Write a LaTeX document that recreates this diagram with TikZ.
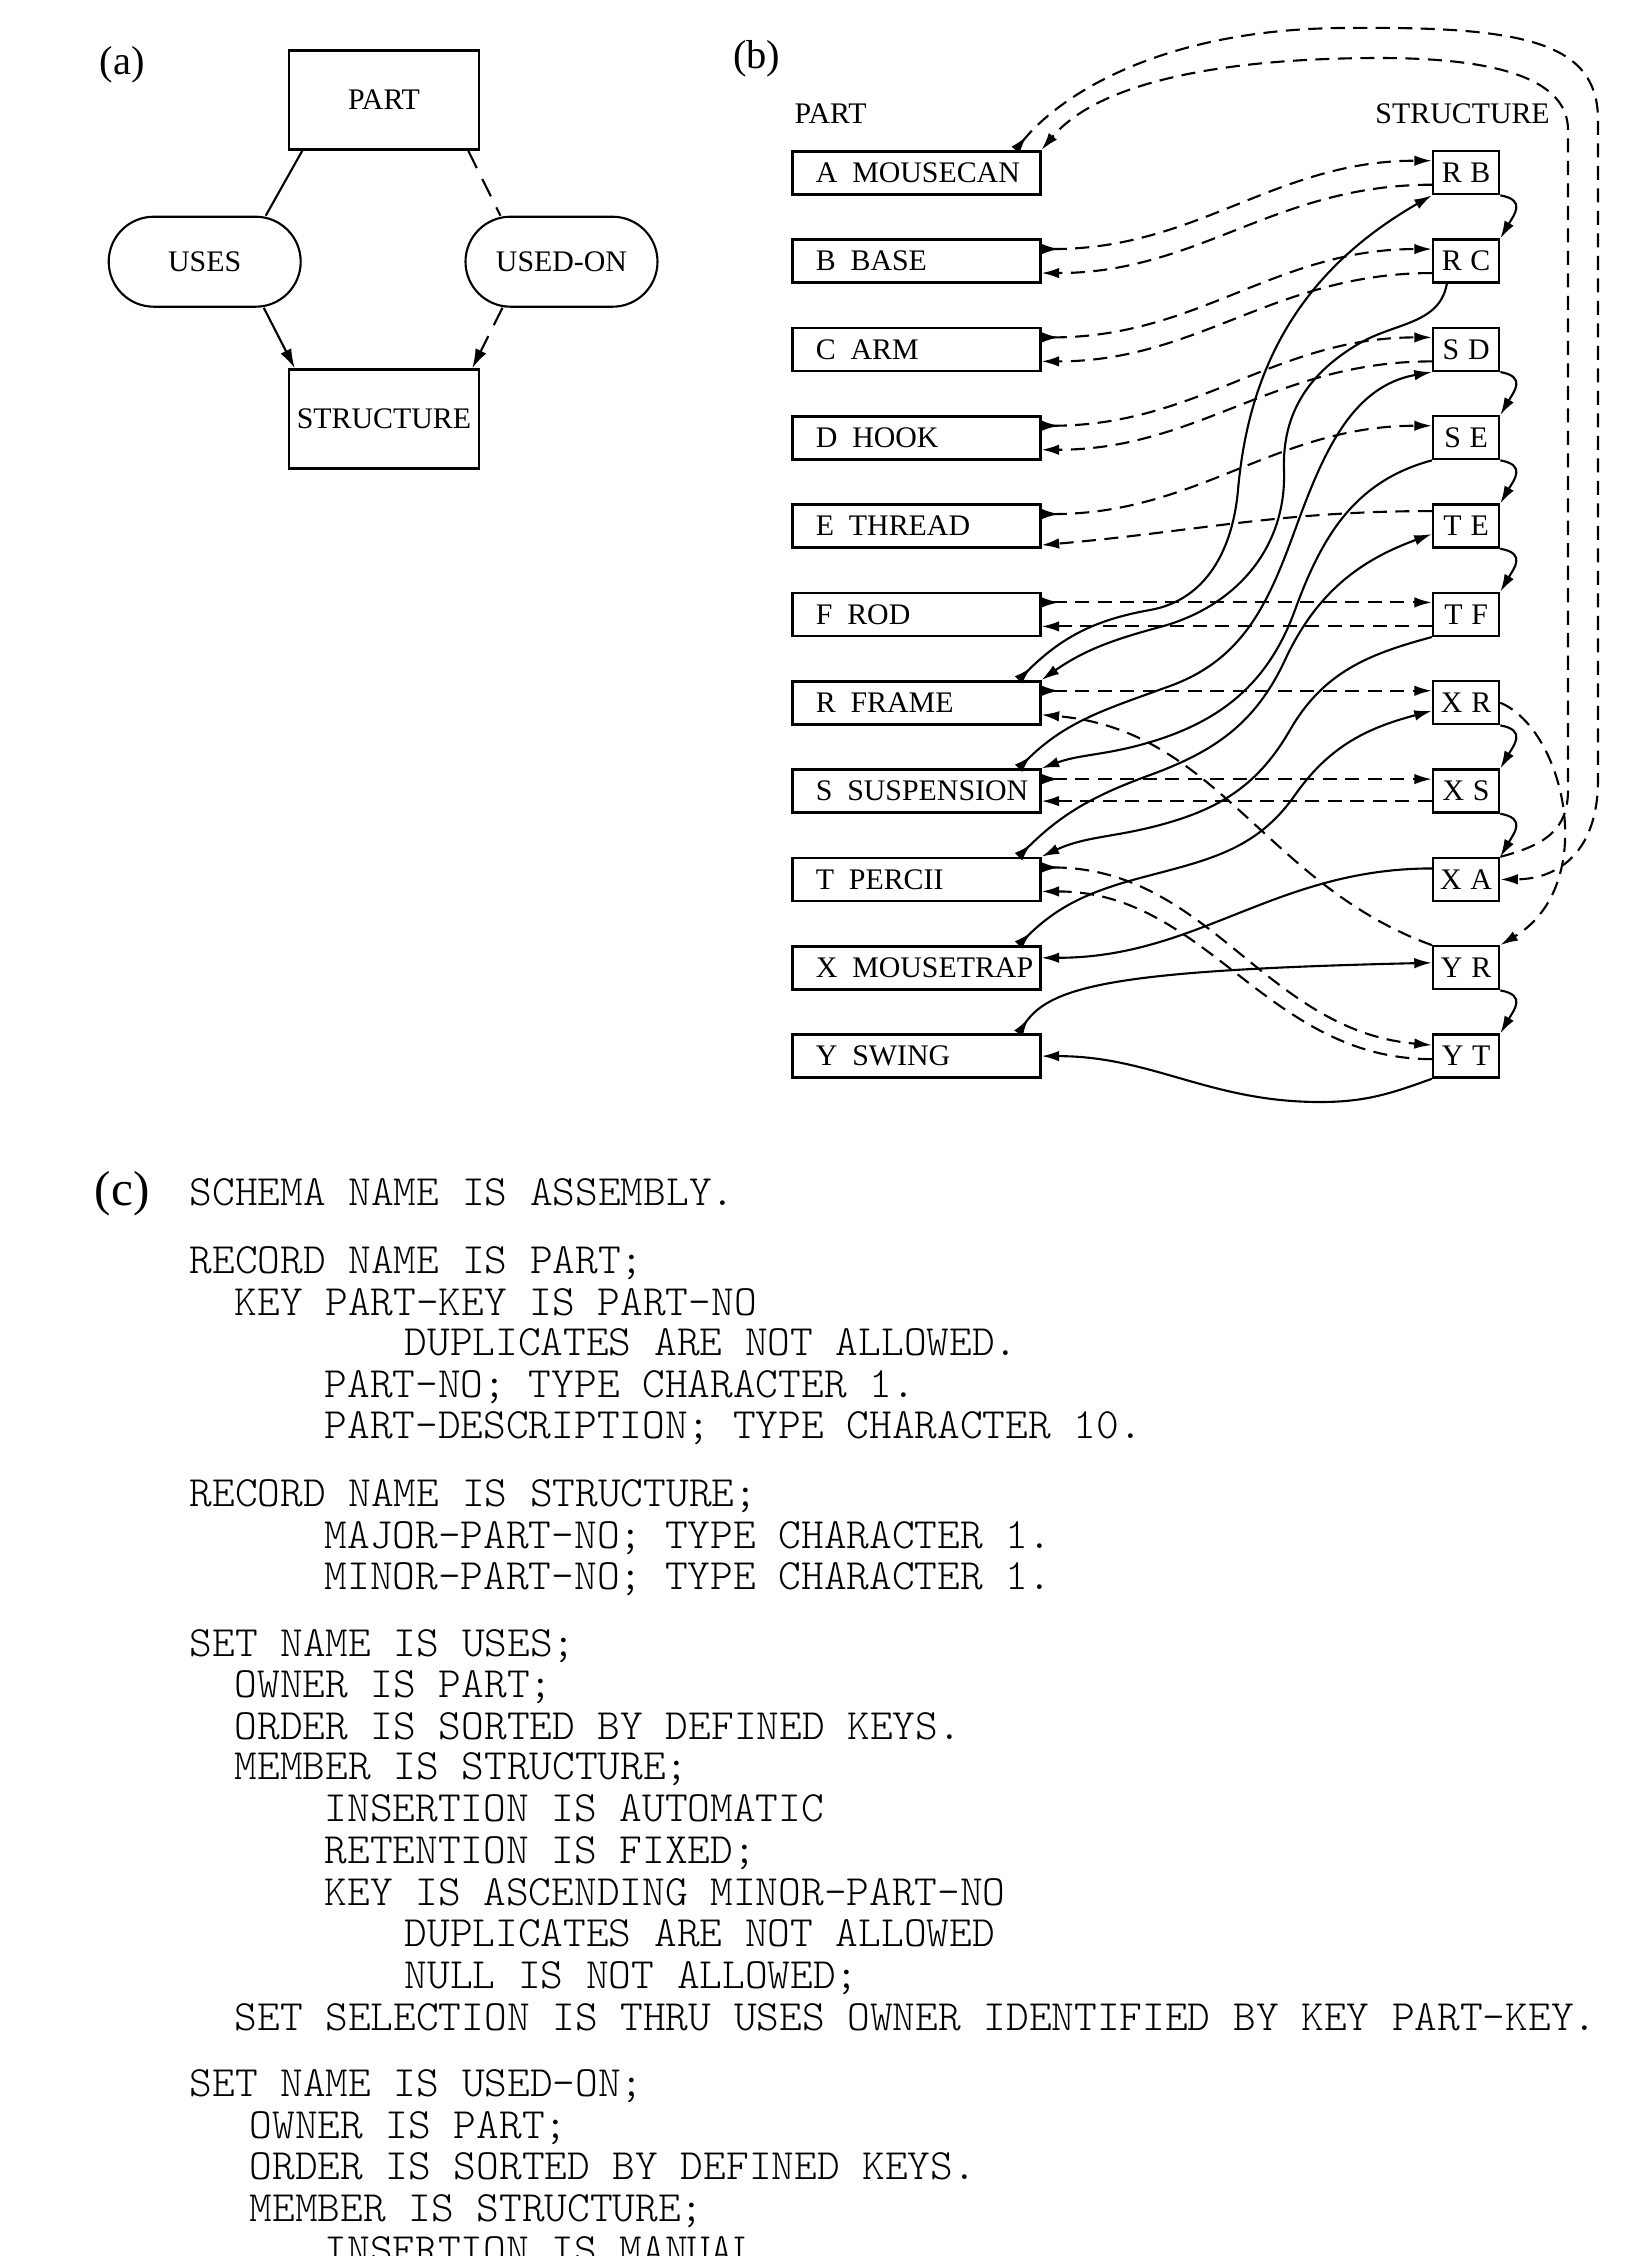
\documentclass[tikz,border=0pt]{standalone}
\usepackage{fontspec}
\setmainfont{Liberation Serif}
\newfontfamily\codefont{Latin Modern Mono Light}
\usetikzlibrary{arrows.meta}

\begin{document}
\begin{tikzpicture}[font=\fontsize{8.5pt}{10pt}\selectfont,
  rec/.style={draw,line width=0.7pt,minimum width=1.9cm,minimum height=0.99cm,inner xsep=1pt},
  setoval/.style={draw,line width=0.6pt,rounded corners=0.45cm,minimum width=1.92cm,minimum height=0.9cm},
  partbox/.style={draw,line width=0.75pt,text width=2.015cm,inner xsep=0.23cm,inner ysep=0pt,minimum height=0.43cm,align=left},
  strbox/.style={draw,line width=0.65pt,minimum width=0.662cm,minimum height=0.43cm,inner sep=0pt},
  link/.style={line width=0.6pt},
  dlink/.style={line width=0.6pt,dash pattern=on 4pt off 2.4pt},
  endtip/.style={-{Latex[length=5pt,width=3pt]}},
  owntip/.style={{Latex[length=5pt,width=3pt,reversed]}-{Latex[length=5pt,width=3pt]}},
  bigtip/.style={-{Latex[length=5.5pt,width=3.4pt]}},
  code/.style={font=\fontsize{12.3pt}{14pt}\selectfont\codefont,anchor=base west,inner sep=0pt},
  panel/.style={font=\fontsize{11.5pt}{13pt}\selectfont}]
\useasboundingbox (0,0) rectangle (16.33,-22.56);

% (a) schema diagram
\node[panel] (laba) at (1.223,-0.647) {(a)};
\node[rec] (recpart) at (3.84,-1.0) {PART};
\node[rec] (recstruct) at (3.84,-4.19) {STRUCTURE};
\node[setoval] (setuses) at (2.047,-2.617) {USES};
\node[setoval] (setusedon) at (5.615,-2.617) {USED-ON};
\draw[line width=0.6pt] ([xshift=1.45mm]recpart.south west) -- ([xshift=-3.6mm]setuses.north east);
\draw[line width=0.6pt,bigtip] ([xshift=-3.8mm]setuses.south east) -- ([xshift=0.7mm]recstruct.north west);
\draw[line width=0.6pt,dash pattern=on 5.5pt off 3.5pt] ([xshift=-1.2mm]recpart.south east) -- ([xshift=3.6mm]setusedon.north west);
\draw[line width=0.6pt,dash pattern=on 5.5pt off 3.5pt,bigtip] ([xshift=3.8mm]setusedon.south west) -- ([xshift=-0.8mm]recstruct.north east);

% (b) occurrences
\node[panel] (labb) at (7.568,-0.59) {(b)};
\node[anchor=west,inner sep=0pt] (hpart) at (7.94,-1.137) {PART};
\node (hstruct) at (14.626,-1.137) {STRUCTURE};
\foreach \nm/\lbl [count=\i from 0] in {pa/A\enspace MOUSECAN,pb/B\enspace BASE,pc/C\enspace ARM,
    pd/D\enspace HOOK,pe/E\enspace THREAD,pf/F\enspace ROD,pr/R\enspace FRAME,ps/S\enspace SUSPENSION,
    pt/T\enspace PERCII,px/X\enspace MOUSETRAP,py/Y\enspace SWING}
  \node[partbox] (\nm) at (9.165,{-1.727-0.8834*\i}) {\lbl};
\foreach \nm/\lbl [count=\i from 0] in {srb/R\kern2.5pt B,src/R\kern2.5pt C,ssd/S\kern2.5pt D,sse/S\kern2.5pt E,
    ste/T\kern2.5pt E,stf/T\kern2.5pt F,sxr/X\kern2.5pt R,sxs/X\kern2.5pt S,sxa/X\kern2.5pt A,syr/Y\kern2.5pt R,syt/Y\kern2.5pt T}
  \node[strbox] (\nm) at (14.661,{-1.727-0.8834*\i}) {\lbl};

% USES set: owner -> members -> owner
\draw[link,owntip] ([xshift=-2.3mm]pr.north east) to[out=45,in=190] (11.5,-6.1) to[out=10,in=-95] (12.38,-4.9) to[out=85,in=210] (srb.south west);
\draw[link,endtip] ([xshift=1.5mm]src.south west) to[out=-100,in=30] (13.6,-3.43) to[out=210,in=92] (12.84,-4.7) to[out=-88,in=15] (11.6,-6.27) to[out=195,in=35] (pr.north east);
\draw[link,owntip] ([xshift=-2.3mm]ps.north east) to[out=45,in=200] (11.7,-6.86) to[out=20,in=-110] (12.95,-5.3) to[out=70,in=190] (ssd.south west);
\draw[link,endtip] (sse.south west) to[out=195,in=70] (12.95,-6.1) to[out=250,in=15] (11.4,-7.45) to[out=195,in=20] (ps.north east);
\draw[link,owntip] ([xshift=-2.3mm]pt.north east) to[out=45,in=200] (11.5,-7.75) to[out=20,in=-115] (12.85,-6.6) to[out=65,in=200] ([yshift=-0.8mm]ste.west);
\draw[link,endtip] (stf.south west) to[out=195,in=60] (12.9,-7.3) to[out=240,in=15] (11.6,-8.25) to[out=195,in=25] (pt.north east);
\draw[link,owntip] ([xshift=-2.3mm]px.north east) to[out=45,in=195] (11.4,-8.78) to[out=15,in=235] (12.95,-7.95) to[out=55,in=195] ([yshift=-0.8mm]sxr.west);
\draw[link,endtip] ([yshift=1.1mm]sxa.west) to[out=180,in=0] ([yshift=1mm]px.east);
\draw[link,owntip] ([xshift=-2.3mm]py.north east) .. controls (10.5,-9.85) and (11.2,-9.7) .. ([yshift=0.5mm]syr.west);
\draw[link,endtip] (syt.south west) to[out=200,in=0] (13.2,-11.02) to[out=180,in=0] (py.east);
\foreach \a/\b in {srb/src,ssd/sse,sse/ste,ste/stf,sxr/sxs,sxs/sxa,syr/syt}
  \draw[link,endtip] (\a.south east) to[out=-10,in=60,looseness=1.6] (\b.north east);

% USED-ON set
\draw[dlink,owntip] ([xshift=-2.6mm]pa.north east) .. controls (10.6,-0.95) and (11.6,-0.3) .. (13.4,-0.28)
  .. controls (15.2,-0.26) and (15.98,-0.4) .. (15.98,-1.2) -- (15.98,-7.8)
  .. controls (15.98,-8.5) and (15.6,-8.79) .. (sxa.east);
\draw[dlink,endtip] (sxa.north east) .. controls (15.45,-8.45) and (15.68,-8.3) .. (15.68,-7.9) -- (15.68,-1.3)
  .. controls (15.68,-0.8) and (15.0,-0.58) .. (13.8,-0.58) .. controls (12.3,-0.58) and (11.0,-0.8) .. (pa.north east);
\foreach \p/\s in {pb/srb,pc/src,pd/ssd,pe/sse}{
  \draw[dlink,owntip] ([yshift=1.2mm]\p.east) to[out=0,in=180] ([yshift=1.2mm]\s.west);}
\foreach \s/\p in {srb/pb,src/pc,ssd/pd}{
  \draw[dlink,endtip] ([yshift=-1.2mm]\s.west) to[out=180,in=0] ([yshift=-1.2mm]\p.east);}
\draw[dlink,endtip] ([yshift=1.5mm]ste.west) to[out=180,in=5] ([yshift=-1.9mm]pe.east);
\draw[dlink,owntip] ([yshift=1.2mm]pf.east) -- ([yshift=1.2mm]stf.west);
\draw[dlink,endtip] ([yshift=-1.2mm]stf.west) -- ([yshift=-1.2mm]pf.east);
\draw[dlink,owntip] ([yshift=1.2mm]pr.east) -- ([yshift=1.2mm]sxr.west);
\draw[dlink,endtip] (sxr.east) .. controls (15.65,-7.3) and (16.0,-8.85) .. (syr.north east);
\draw[dlink,endtip] (syr.north west) to[out=160,in=-5] ([yshift=-1.2mm]pr.east);
\draw[dlink,owntip] ([yshift=1.2mm]ps.east) -- ([yshift=1.2mm]sxs.west);
\draw[dlink,endtip] ([yshift=-1.0mm]sxs.west) -- ([yshift=-1.0mm]ps.east);
\draw[dlink,owntip] ([yshift=1.2mm]pt.east) to[out=0,in=175] ([yshift=1.1mm]syt.west);
\draw[dlink,endtip] ([yshift=-0.3mm]syt.west) to[out=180,in=0] ([yshift=-1.2mm]pt.east);

% (c) schema text
\node[font=\fontsize{14pt}{16pt}\selectfont] (labc) at (1.223,-11.94) {(c)};
\foreach \cx/\cy/\ctext [count=\k] in {
    1.89/12.057/SCHEMA NAME IS ASSEMBLY.,
    1.89/12.733/RECORD NAME IS PART;,
    2.34/13.151/KEY PART-KEY IS PART-NO,
    4.04/13.554/DUPLICATES ARE NOT ALLOWED.,
    3.24/13.971/PART-NO; TYPE CHARACTER 1.,
    3.24/14.388/PART-DESCRIPTION; TYPE CHARACTER 10.,
    1.89/15.064/RECORD NAME IS STRUCTURE;,
    3.24/15.481/MAJOR-PART-NO; TYPE CHARACTER 1.,
    3.24/15.899/MINOR-PART-NO; TYPE CHARACTER 1.,
    1.89/16.561/SET NAME IS USES;,
    2.34/16.978/OWNER IS PART;,
    2.34/17.395/ORDER IS SORTED BY DEFINED KEYS.,
    2.34/17.798/MEMBER IS STRUCTURE;,
    3.24/18.215/INSERTION IS AUTOMATIC,
    3.24/18.632/RETENTION IS FIXED;,
    3.24/19.050/KEY IS ASCENDING MINOR-PART-NO,
    4.04/19.467/DUPLICATES ARE NOT ALLOWED,
    4.04/19.884/NULL IS NOT ALLOWED;,
    2.34/20.301/SET SELECTION IS THRU USES OWNER IDENTIFIED BY KEY PART-KEY.,
    1.89/20.963/SET NAME IS USED-ON;,
    2.49/21.381/OWNER IS PART;,
    2.49/21.798/ORDER IS SORTED BY DEFINED KEYS.,
    2.49/22.215/MEMBER IS STRUCTURE;,
    3.24/22.632/INSERTION IS MANUAL}
  \node[code] (ln\k) at (\cx,-\cy) {\ctext};
\end{tikzpicture}
\end{document}
